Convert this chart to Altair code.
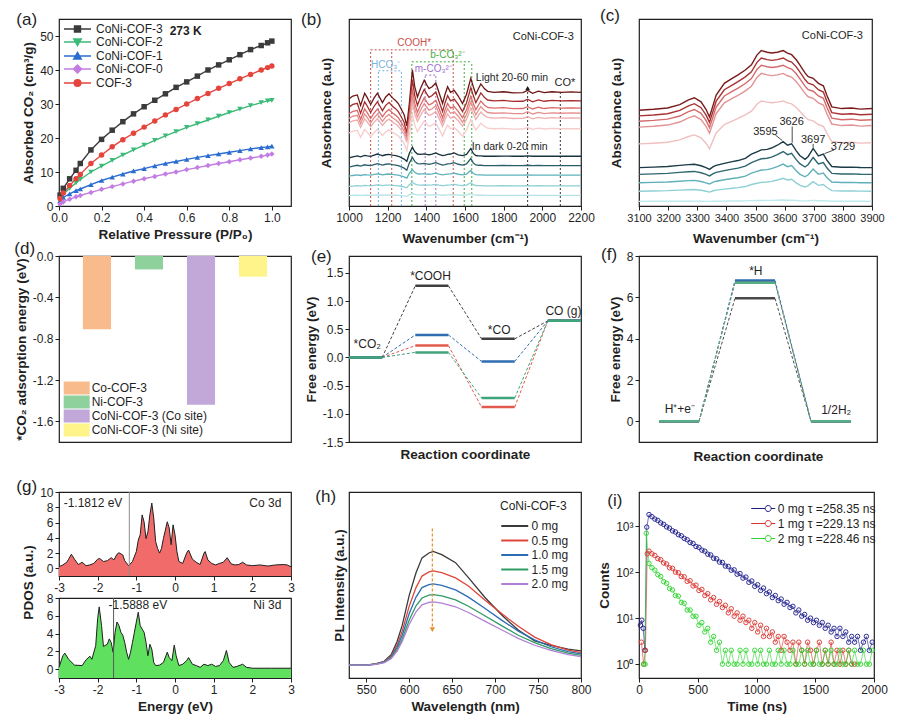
import altair as alt
import pandas as pd

FONT = "Liberation Sans"
INK = "#1f1f1f"
MINUS_FIX = "replace(datum.label, '\u2212', '-')"

# ============================ data ============================
# (a) CO2 adsorption isotherms, 273 K
a_series = ["CoNi-COF-3", "CoNi-COF-2", "CoNi-COF-1", "CoNi-COF-0", "COF-3"]
a_pressure = [0.005, 0.02, 0.05, 0.08, 0.1, 0.15, 0.2, 0.25, 0.3, 0.35, 0.4, 0.45,
              0.5, 0.55, 0.6, 0.65, 0.7, 0.75, 0.8, 0.85, 0.9, 0.95, 0.98, 1.0]
a_coni3 = [3.2, 5.2, 8.0, 10.5, 12.5, 16.5, 19.6, 22.3, 24.8, 27.1, 29.2, 31.1,
           33.0, 34.9, 36.5, 38.2, 40.0, 41.5, 43.0, 44.5, 46.0, 47.2, 48.0, 48.5]
a_coni2 = [2.0, 3.4, 5.2, 6.8, 7.8, 10.0, 11.7, 13.4, 15.0, 16.5, 17.9, 19.3,
           20.6, 21.9, 23.1, 24.2, 25.3, 26.4, 27.5, 28.5, 29.5, 30.4, 30.9, 31.1]
a_coni1 = [1.5, 2.5, 3.6, 4.5, 5.0, 6.3, 7.5, 8.5, 9.4, 10.3, 11.0, 11.8,
           12.5, 13.1, 13.7, 14.3, 14.8, 15.3, 15.8, 16.3, 16.8, 17.2, 17.4, 17.6]
a_coni0 = [0.6, 1.2, 2.0, 2.7, 3.1, 4.0, 4.9, 5.7, 6.5, 7.3, 8.0, 8.7,
           9.4, 10.0, 10.7, 11.3, 11.9, 12.5, 13.0, 13.6, 14.1, 14.6, 15.0, 15.3]
a_cof3 = [2.2, 3.8, 6.0, 8.0, 9.3, 12.5, 15.0, 17.4, 19.5, 21.4, 23.2, 25.0,
          26.8, 28.4, 30.0, 31.6, 33.1, 34.6, 36.0, 37.4, 38.7, 40.0, 40.7, 41.2]

# (b) in-situ DRIFTS, 1000-2200 cm-1
b_wn = [1000, 1020, 1043, 1060, 1081, 1095, 1112, 1130, 1147, 1160, 1173, 1190, 1207, 1225,
        1242, 1255, 1268, 1285, 1299, 1312, 1328, 1340, 1354, 1370, 1389, 1402, 1414, 1430,
        1449, 1465, 1484, 1497, 1510, 1525, 1544, 1565, 1587, 1608, 1630, 1643, 1656, 1670,
        1682, 1700, 1717, 1750, 1800, 1850, 1900, 1924, 1950, 1980, 2010, 2050, 2100, 2150, 2200]
b_light_shape = [-3.5, -2.0, -1.4, -7.0, -0.5, -3.0, -6.5, -3.0, -0.5, -3.0, -5.5, -2.5, -0.8, -3.0,
                 -4.5, -6.0, -8.5, -12.0, -18.0, -6.0, 12.0, 3.0, -2.5, 2.0, 6.5, 4.0, 2.0, 3.0,
                 5.0, 0.0, -6.0, -1.0, 3.0, 0.0, 1.0, -2.0, -6.0, -1.0, 7.5, 3.0, -1.0, 2.0,
                 4.5, 2.0, 0.5, 0.0, 0.3, -0.3, -0.2, 1.0, -0.5, 0.6, -0.2, 0.3, 0.0, 0.2, 0.0]
b_dark_shape = [-0.9, -0.3, 0.2, -0.3, 0.5, 0.2, 0.0, 0.6, 1.2, 0.8, 0.3, 0.8, 1.0, 0.6,
                0.3, 0.0, -0.6, -1.5, -2.7, 1.5, 4.8, 2.5, 1.2, 1.0, 1.3, 1.0, 0.8, 1.2,
                1.8, 1.0, 0.3, 0.6, 1.0, 1.2, 1.8, 0.8, 0.3, 1.0, 4.2, 1.5, 0.4, 0.2,
                0.2, 0.0, 0.0, 0.0, 0.1, 0.0, 0.0, 0.2, 0.0, 0.1, 0.0, 0.0, 0.0, 0.0, 0.0]
b_light_level = [60.8, 56.2, 52.3, 49.6, 47.0, 41.3]
b_light_gain = [1.0, 0.95, 0.85, 0.8, 0.72, 0.65]
b_dark_level = [26.6, 21.6, 16.5, 10.8, 5.7]
b_dark_gain = [1.0, 0.9, 0.6, 0.4, 0.2]
b_band_names = ["COOH*", "HCO3", "b-CO3", "m-CO3", "CO"]
b_band_lines = [[1112, 1221, 1539], [1152, 1271], [1325, 1596, 1635], [1394, 1449], [1924, 2093]]
b_band_top = [83.5, 72.3, 77.1, 70.0, 62.0]

# (c) in-situ DRIFTS, 3100-3900 cm-1
c_wn = [3100, 3150, 3198, 3240, 3270, 3290, 3313, 3330, 3342, 3355, 3365, 3393, 3420, 3440,
        3465, 3486, 3505, 3520, 3540, 3555, 3575, 3595, 3610, 3624, 3640, 3652, 3670, 3681,
        3698, 3716, 3733, 3745, 3762, 3796, 3830, 3860, 3900]
c_light_shape = [0, 0.5, 1.2, 3.0, 5.5, 6.7, 4.5, 0.5, -3.6, 3.0, 8.1, 14.4, 17.0, 18.9,
                 21.5, 24.3, 29.5, 31.9, 31.0, 30.6, 31.0, 31.9, 30.5, 29.7, 27.0, 24.3, 20.0, 18.0,
                 17.1, 14.4, 13.1, 8.0, 1.8, 0.9, 1.2, 0.6, 0.9]
c_dark_shape = [0, 0.3, 0.6, 1.2, 1.6, 1.8, 1.0, 0.0, -0.9, 0.5, 1.2, 2.3, 3.2, 3.8,
                5.0, 7.2, 8.5, 9.5, 9.8, 10.5, 12.0, 13.9, 12.0, 12.8, 9.0, 6.5, 4.5, 6.0,
                10.3, 6.3, 7.2, 4.0, 0.6, 0.2, 0.3, 0.1, 0.0]
c_light_level = [51.2, 48.2, 45.3, 42.2, 33.2]
c_light_gain = [1.0, 0.97, 0.94, 0.9, 0.72]
c_dark_level = [20.5, 16.9, 12.4, 7.9, 2.5]
c_dark_gain = [1.0, 0.88, 0.72, 0.5, 0.05]
c_peaks = ["3595", "3626", "3697", "3729"]

# (d) *CO2 adsorption energy
d_cats = ["Co-COF-3", "Ni-COF-3", "CoNi-COF-3 (Co site)", "CoNi-COF-3 (Ni site)"]
d_energy = [-0.71, -0.13, -1.44, -0.20]

# (e) CO2RR free energy diagram
e_series = ["Co-COF-3", "Ni-COF-3", "CoNi-COF-3 (Co site)", "CoNi-COF-3 (Ni site)"]
e_levels = [[0.0, 1.27, 0.33, 0.65],
            [0.0, 0.21, -0.88, 0.65],
            [0.0, 0.40, -0.07, 0.65],
            [0.0, 0.09, -0.72, 0.65]]
e_steps = ["*CO₂", "*COOH", "*CO", "CO (g)"]

# (f) HER free energy diagram
f_series = ["Co-COF-3", "Ni-COF-3", "CoNi-COF-3 (Co Site)", "CoNi-COF-3 (Ni Site)"]
f_levels = [[0.0, 5.95, 0.0],
            [0.0, 6.74, 0.0],
            [0.0, 6.82, 0.0],
            [0.0, 6.70, 0.0]]
f_steps = ["H⁺+e⁻", "*H", "1/2H₂"]

# (g) projected DOS
g_e_co = [-3.0, -2.9, -2.8, -2.75, -2.68, -2.6, -2.5, -2.4, -2.3, -2.2, -2.1, -2.0, -1.95, -1.85,
          -1.75, -1.65, -1.58, -1.5, -1.45, -1.35, -1.3, -1.2, -1.1, -1.0, -0.95, -0.9, -0.85,
          -0.8, -0.75, -0.7, -0.65, -0.6, -0.55, -0.5, -0.45, -0.4, -0.35, -0.3, -0.2, -0.15,
          -0.1, -0.05, 0.0, 0.05, 0.1, 0.2, 0.3, 0.35, 0.45, 0.55, 0.65, 0.75, 0.78, 0.85, 0.95,
          1.05, 1.15, 1.25, 1.35, 1.45, 1.55, 1.65, 1.75, 1.85, 2.0, 2.2, 2.4, 2.6, 2.8, 2.9, 3.0]
g_pdos_co = [0.2, 0.45, 0.8, 1.2, 1.85, 1.2, 0.5, 0.8, 0.35, 0.45, 0.65, 1.2, 1.3, 0.9,
             1.0, 1.4, 1.1, 1.85, 2.05, 1.75, 1.0, 0.35, 0.9, 2.2, 3.7, 4.4, 7.0,
             6.1, 3.9, 4.8, 7.0, 8.55, 6.6, 3.5, 2.6, 2.0, 2.6, 3.9, 6.1, 5.3,
             3.1, 5.7, 4.4, 2.2, 0.9, 0.65, 2.0, 2.4, 1.2, 0.8, 0.5, 2.0, 2.2, 1.1, 0.65,
             0.45, 0.65, 0.8, 1.4, 0.6, 0.45, 0.5, 0.8, 0.45, 0.35, 0.45, 0.3, 0.45, 0.5, 0.45, 0.2]
g_e_ni = [-3.0, -2.9, -2.85, -2.75, -2.6, -2.4, -2.3, -2.2, -2.15, -2.05, -2.0, -1.96, -1.9,
          -1.85, -1.75, -1.7, -1.65, -1.6, -1.55, -1.5, -1.45, -1.4, -1.35, -1.3, -1.25, -1.2,
          -1.15, -1.1, -1.05, -1.0, -0.95, -0.9, -0.85, -0.8, -0.75, -0.7, -0.65, -0.6, -0.55,
          -0.5, -0.4, -0.3, -0.2, -0.15, -0.08, -0.02, 0.03, 0.1, 0.2, 0.3, 0.35, 0.45, 0.55,
          0.65, 0.75, 0.85, 0.95, 1.05, 1.15, 1.25, 1.33, 1.4, 1.5, 1.6, 1.75, 1.85, 2.0, 2.5, 3.0]
g_pdos_ni = [0.2, 1.5, 1.8, 1.1, 0.45, 0.4, 1.05, 1.45, 1.1, 2.65, 5.7, 7.0, 4.9,
             2.55, 2.8, 3.4, 3.0, 1.9, 4.15, 5.3, 4.9, 4.15, 3.8, 3.0, 1.9, 1.1,
             1.9, 3.0, 4.15, 5.3, 6.4, 4.9, 4.5, 4.15, 3.0, 1.5, 2.8, 2.25, 0.75,
             0.4, 0.45, 0.75, 1.9, 1.3, 0.95, 2.7, 1.5, 0.4, 0.55, 0.95, 1.3, 0.55, 0.4,
             0.2, 0.55, 0.4, 0.55, 0.3, 0.4, 0.95, 2.1, 0.75, 0.2, 0.3, 0.55, 0.2, 0.1, 0.1, 0.1]
g_dband = [-1.1812, -1.5888]

# (h) steady-state PL
h_series = ["0 mg", "0.5 mg", "1.0 mg", "1.5 mg", "2.0 mg"]
h_wl = [530, 550, 561, 571, 579, 586, 592, 600, 608, 615, 623, 628, 638, 654, 669, 688, 708,
        727, 746, 765, 785, 800]
h_0 = [6.9, 6.9, 7.6, 9.0, 12.5, 19.6, 28.4, 44.3, 56.6, 64.6, 67.2, 68.1, 66.3, 62.0, 54.0,
       43.4, 33.7, 25.8, 20.0, 17.5, 15.5, 14.6]
h_05 = [6.9, 6.9, 7.6, 8.8, 11.8, 17.8, 25.2, 38.5, 48.6, 54.8, 57.0, 57.6, 56.6, 53.8, 49.5,
        42.0, 34.5, 27.8, 22.0, 18.0, 15.0, 13.6]
h_10 = [6.9, 6.9, 7.5, 8.6, 11.3, 16.5, 23.0, 34.5, 43.5, 48.6, 50.2, 50.6, 49.8, 47.4, 43.5,
        37.5, 31.0, 25.2, 20.5, 16.8, 14.2, 13.0]
h_15 = [6.9, 6.9, 7.4, 8.4, 10.8, 15.3, 21.0, 31.0, 38.8, 43.0, 44.5, 44.8, 44.1, 42.0, 38.6,
        33.5, 28.0, 23.0, 19.0, 15.8, 13.4, 12.2]
h_20 = [6.9, 6.9, 7.3, 8.2, 10.4, 14.5, 19.8, 28.8, 35.6, 39.3, 40.6, 40.9, 40.2, 38.3, 35.2,
        30.6, 25.8, 21.3, 17.6, 14.8, 12.6, 11.5]

# (i) time-resolved PL decay
i_series = ["0 mg τ =258.35 ns", "1 mg τ =229.13 ns", "2 mg τ =228.46 ns"]
i_rise_t = [[12, 24, 36, 50, 66], [20, 40, 55, 70], [40, 52, 62]]
i_rise_n = [[7, 9, 6, 2, 950], [3, 1, 2, 250], [1, 1, 700]]
i_t = list(range(85, 2000, 25))
i_blue = [1780, 1600, 1420, 1330, 1170, 1090, 960, 900, 790, 745, 650, 615, 540, 505, 440, 420,
          360, 345, 300, 285, 245, 236, 200, 195, 165, 162, 135, 133, 110, 112, 90, 93, 74, 78,
          60, 64, 49, 53, 40, 45, 34, 37, 28, 31, 24, 26, 20, 22, 17, 18, 13, 15, 11, 12, 9, 10,
          8, 9, 7, 8, 6, 7, 5, 6, 4, 6, 4, 5, 3, 4, 3, 4, 2, 3, 4, 2, 3]
i_red = [285, 250, 230, 196, 186, 158, 150, 124, 121, 100, 97, 80, 79, 63, 65, 50, 52, 40, 42,
         31, 34, 25, 28, 20, 23, 17, 19, 13, 16, 11, 13, 9, 11, 8, 9, 6, 8, 5, 7, 4, 6, 4, 5, 3,
         4, 2, 4, 3, 2, 3, 1, 3, 2, 1, 3, 2, 1, 2, 3, 1, 2, 1, 3, 1, 2, 1, 2, 1, 2, 1, 1]
i_green = [155, 125, 110, 88, 80, 62, 57, 44, 41, 31, 30, 22, 21, 15, 15, 11, 11, 7, 8, 5, 6, 3,
           4, 2, 3, 1, 2, 1, 2, 1, 1, 2, 1, 2, 1, 1, 2, 1, 2, 1, 1, 2, 1, 1, 2, 1, 2, 1, 1, 2, 1,
           1, 2, 1, 2, 1, 1, 2, 1, 1, 2, 1, 2, 1, 1, 2, 1, 1, 2, 1, 2, 1, 1, 2, 1, 1, 2]

# ============================ styling ============================
a_colors = ["#3b3b3b", "#3cba78", "#2a6cd0", "#c27de2", "#e5443c"]
a_markers = ["square", "triangle-down", "triangle-up", "diamond", "circle"]
# legend glyphs: a short line with the series marker on it
a_keys = [
    "M-1,0H3.5M0.75,-0.5H1.75V0.5H0.75Z",
    "M-1,0H3.5M0.62,-0.5H1.88L1.25,0.6Z",
    "M-1,0H3.5M0.62,0.5H1.88L1.25,-0.6Z",
    "M-1,0H3.5M1.25,-0.68L1.93,0L1.25,0.68L0.57,0Z",
    "M-1,0H3.5M0.7,0A0.55,0.55,0,1,1,1.8,0A0.55,0.55,0,1,1,0.7,0Z",
]
b_light_colors = ["#6e1616", "#a52c2c", "#dc6a6a", "#e68f8f", "#efadad", "#f6cccc"]
b_dark_colors = ["#18333f", "#2b5d6a", "#5fb2bc", "#8dcfd4", "#b6e3e6"]
b_band_colors = ["#c8504c", "#7ab3de", "#3fae3f", "#a070d0", "#333333"]
c_light_colors = ["#7a1c1c", "#a83232", "#d46a6a", "#e39393", "#f0c0c0"]
c_dark_colors = ["#1b3b46", "#2e6670", "#5fb0b8", "#8fd0d5", "#bfe9ec"]
d_colors = ["#f8bc8c", "#8fd19c", "#c1a8d9", "#fff48a"]
e_colors = ["#404040", "#e25a4e", "#2f6db1", "#3fa57b"]
f_colors = ["#4a4a4a", "#e25a4e", "#2f6db1", "#55ae85"]
h_colors = ["#3a3a3a", "#e0453a", "#2a6db5", "#2f9a62", "#b27fd6"]
i_colors = ["#1b1b8a", "#d8322d", "#2bd42b"]
i_keys = ["M-1,0H1.33M2.33,0H3M1.33,0A0.5,0.5,0,1,1,2.33,0A0.5,0.5,0,1,1,1.33,0Z"] * 3
LINE_KEY = "M-1,0H3"

# panel sizes (plot areas)
COL_W = 232
ROW_H = [187, 186, 186]


def tag(letter, dx, dy):
    return alt.Chart(pd.DataFrame({"t": [letter]})).mark_text(
        align="left", baseline="middle", font=FONT, fontSize=17, color=INK
    ).encode(x=alt.value(dx), y=alt.value(dy), text="t:N")


def long_frame(keys, xs, table, xname, yname):
    rows = []
    for k, ys in zip(keys, table):
        for x, y in zip(xs, ys):
            rows.append({"s": k, xname: x, yname: y})
    return pd.DataFrame(rows)


def notes(rows, X, Y, align="center", size=12, color=INK, weight="normal"):
    df = pd.DataFrame(rows)
    return alt.Chart(df).mark_text(align=align, baseline="middle", font=FONT,
                                   fontSize=size, color=color, fontWeight=weight).encode(X, Y, text="t:N")


# ============================ (a) ============================
df_a = long_frame(a_series, a_pressure, [a_coni3, a_coni2, a_coni1, a_coni0, a_cof3], "p", "v")
AX = alt.X("p:Q", scale=alt.Scale(domain=[0, 1.09], nice=False),
           axis=alt.Axis(values=[0, 0.2, 0.4, 0.6, 0.8, 1.0], format=".1f", title="Relative Pressure (P/P₀)"))
AY = alt.Y("v:Q", scale=alt.Scale(domain=[0, 55], nice=False),
           axis=alt.Axis(values=[0, 10, 20, 30, 40, 50], title="Absorbed CO₂ (cm³/g)"))
a_col = alt.Color("s:N", scale=alt.Scale(domain=a_series, range=a_colors), legend=None)
a_line = alt.Chart(df_a).mark_line(strokeWidth=1.4).encode(AX, AY, a_col)
a_dots = alt.Chart(df_a).mark_point(filled=True, opacity=1, size=30).encode(
    AX, AY, a_col, alt.Shape("s:N", scale=alt.Scale(domain=a_series, range=a_markers), legend=None))
a_leg = alt.Legend(orient="none", legendX=4, legendY=3, title=None, symbolSize=144, labelOffset=19,
                   rowPadding=0, padding=0, symbolStrokeWidth=1.4)
a_key = alt.Chart(df_a).transform_filter("false").mark_point(filled=True, opacity=1, strokeWidth=1.4).encode(
    fill=alt.Fill("s:N", scale=alt.Scale(domain=a_series, range=a_colors), legend=a_leg),
    stroke=alt.Stroke("s:N", scale=alt.Scale(domain=a_series, range=a_colors), legend=a_leg),
    shape=alt.Shape("s:N", scale=alt.Scale(domain=a_series, range=a_keys), legend=a_leg),
)
a_temp = notes([{"p": 0.52, "v": 51.6, "t": "273 K"}], AX, AY, align="left", weight="bold")
anchor = alt.Chart(pd.DataFrame({"t": ["."]})).mark_text(
    align="left", baseline="top", fontSize=1, opacity=0
).encode(x=alt.value(-57.7), y=alt.value(-18), text="t:N")
panel_a = alt.layer(a_line, a_dots, a_key, a_temp, tag("(a)", -42.7, 0.5), anchor).resolve_scale(
    shape="independent", fill="independent", stroke="independent").properties(width=COL_W, height=ROW_H[0])

# ============================ (b) ============================
b_rows, b_names = [], []
for i, (lv, gn) in enumerate(zip(b_light_level, b_light_gain)):
    b_names.append(f"L{i}")
    b_rows += [{"s": f"L{i}", "w": w, "v": lv + gn * d} for w, d in zip(b_wn, b_light_shape)]
for i, (lv, gn) in enumerate(zip(b_dark_level, b_dark_gain)):
    b_names.append(f"D{i}")
    b_rows += [{"s": f"D{i}", "w": w, "v": lv + gn * d} for w, d in zip(b_wn, b_dark_shape)]
df_b = pd.DataFrame(b_rows)
BX = alt.X("w:Q", scale=alt.Scale(domain=[1000, 2200], nice=False),
           axis=alt.Axis(values=list(range(1000, 2201, 200)), format="d", title="Wavenumber (cm⁻¹)", titlePadding=8))
BY = alt.Y("v:Q", scale=alt.Scale(domain=[0, 100], nice=False),
           axis=alt.Axis(labels=False, ticks=False, title="Absorbance (a.u)", titlePadding=16))
b_curves = alt.Chart(df_b).mark_line(strokeWidth=1.3).encode(
    BX, BY, alt.Color("s:N", scale=alt.Scale(domain=b_names, range=b_light_colors + b_dark_colors), legend=None))
vrows, hrows = [], []
for name, ws, top in zip(b_band_names, b_band_lines, b_band_top):
    vrows += [{"g": name, "w": w, "v": 0, "v2": top} for w in ws]
    if name != "CO":
        hrows.append({"g": name, "w": min(ws), "w2": max(ws), "v": top})
b_band_text_rows = [
    {"g": "COOH*", "w": 1337, "v": 87.0, "t": "COOH*"},
    {"g": "HCO3", "w": 1190, "v": 75.5, "t": "HCO₃⁻"},
    {"g": "m-CO3", "w": 1436, "v": 73.4, "t": "m-CO₃²⁻"},
    {"g": "b-CO3", "w": 1509, "v": 81.0, "t": "b-CO₃²⁻"},
]
band_layers = []
for name, colr in zip(b_band_names, b_band_colors):
    band_layers.append(alt.Chart(pd.DataFrame([r for r in vrows if r["g"] == name])).mark_rule(
        strokeDash=[2, 2], strokeWidth=1, color=colr).encode(BX, BY, alt.Y2("v2")))
    hr = [r for r in hrows if r["g"] == name]
    if hr:
        band_layers.append(alt.Chart(pd.DataFrame(hr)).mark_rule(
            strokeDash=[2, 2], strokeWidth=1, color=colr).encode(BX, alt.X2("w2"), BY))
    tr = [r for r in b_band_text_rows if r["g"] == name]
    if tr:
        band_layers.append(notes(tr, BX, BY, size=10, color=colr))
b_text_l = notes([{"w": 1656, "v": 68.2, "t": "Light 20-60 min"},
                  {"w": 1635, "v": 31.4, "t": "In dark 0-20 min"}], BX, BY, align="left", size=10.5)
b_text_c = notes([{"w": 2117, "v": 65.6, "t": "CO*"},
                  {"w": 2005, "v": 90.4, "t": "CoNi-COF-3"}], BX, BY, size=11)
b_tri = alt.Chart(pd.DataFrame({"w": [1924], "v": [63.0]})).mark_point(
    shape="triangle-up", filled=True, size=25, color=INK, opacity=1).encode(BX, BY)
panel_b = alt.layer(*band_layers, b_curves, b_text_l, b_text_c, b_tri,
                    tag("(b)", -48, 0.5)).properties(width=COL_W, height=ROW_H[0])

# ============================ (c) ============================
c_rows, c_names = [], []
for i, (lv, gn) in enumerate(zip(c_light_level, c_light_gain)):
    c_names.append(f"L{i}")
    c_rows += [{"s": f"L{i}", "w": w, "v": lv + gn * d} for w, d in zip(c_wn, c_light_shape)]
for i, (lv, gn) in enumerate(zip(c_dark_level, c_dark_gain)):
    c_names.append(f"D{i}")
    c_rows += [{"s": f"D{i}", "w": w, "v": lv + gn * d} for w, d in zip(c_wn, c_dark_shape)]
df_c = pd.DataFrame(c_rows)
CX = alt.X("w:Q", scale=alt.Scale(domain=[3100, 3900], nice=False),
           axis=alt.Axis(values=list(range(3100, 3901, 100)), format="d", labelFontSize=11,
                         title="Wavenumber (cm⁻¹)", titlePadding=8))
CY = alt.Y("v:Q", scale=alt.Scale(domain=[0, 100], nice=False),
           axis=alt.Axis(labels=False, ticks=False, title="Absorbance (a.u)", titlePadding=16))
c_curves = alt.Chart(df_c).mark_line(strokeWidth=1.4).encode(
    CX, CY, alt.Color("s:N", scale=alt.Scale(domain=c_names, range=c_light_colors + c_dark_colors), legend=None))
c_leaders = alt.Chart(pd.DataFrame([
    {"w": 3568, "w2": 3592, "v": 38.0, "v2": 35.0},
    {"w": 3626, "w2": 3626, "v": 42.5, "v2": 33.8},
    {"w": 3698, "w2": 3698, "v": 33.2, "v2": 31.2},
    {"w": 3770, "w2": 3737, "v": 30.0, "v2": 28.0},
])).mark_rule(color=INK, strokeWidth=0.8).encode(CX, alt.X2("w2"), CY, alt.Y2("v2"))
c_text = notes([{"w": 3534, "v": 39.5, "t": c_peaks[0]}, {"w": 3624, "v": 44.9, "t": c_peaks[1]},
                {"w": 3698, "v": 35.5, "t": c_peaks[2]}, {"w": 3800, "v": 31.4, "t": c_peaks[3]}],
               CX, CY, size=11)
c_title = notes([{"w": 3764, "v": 90.8, "t": "CoNi-COF-3"}], CX, CY, size=11)
panel_c = alt.layer(c_curves, c_leaders, c_text, c_title, tag("(c)", -39, -3.5)).properties(width=233, height=ROW_H[0])

# ============================ (d) ============================
df_d = pd.DataFrame({"c": d_cats, "e": d_energy})
DX = alt.X("c:N", sort=d_cats, scale=alt.Scale(paddingInner=0.46, paddingOuter=0.46), axis=None)
DY = alt.Y("e:Q", scale=alt.Scale(domain=[-1.8, 0], nice=False),
           axis=alt.Axis(values=[0, -0.4, -0.8, -1.2, -1.6], format=".1f", labelExpr=MINUS_FIX,
                         title="*CO₂ adsorption energy (eV)"))
d_leg = alt.Legend(orient="none", legendX=4.7, legendY=125.5, title=None, symbolType="M-1,-1H3V1H-1Z",
                   symbolSize=169, labelOffset=15, rowPadding=1, padding=0, symbolStrokeWidth=0)
d_bars = alt.Chart(df_d).mark_bar().encode(
    DX, DY, alt.Color("c:N", scale=alt.Scale(domain=d_cats, range=d_colors), legend=d_leg))
panel_d = alt.layer(d_bars, tag("(d)", -44.7, -7.5)).properties(width=COL_W, height=ROW_H[1])

# ============================ (e) ============================
e_left, e_right = [0, 2, 4, 6], [1, 3, 5, 7]
e_lv, e_ln = [], []
for s, lv in zip(e_series, e_levels):
    e_lv += [{"s": s, "x0": a, "x1": b, "g": g} for a, b, g in zip(e_left, e_right, lv)]
    e_ln += [{"s": s, "x0": e_right[k], "x1": e_left[k + 1], "g": lv[k], "g1": lv[k + 1]} for k in range(3)]
EX = alt.X("x0:Q", scale=alt.Scale(domain=[0, 7], nice=False),
           axis=alt.Axis(labels=False, ticks=False, title="Reaction coordinate", titlePadding=5))
EY = alt.Y("g:Q", scale=alt.Scale(domain=[-1.5, 1.8], nice=False),
           axis=alt.Axis(values=[-1.5, -1.0, -0.5, 0.0, 0.5, 1.0, 1.5], format=".1f", labelExpr=MINUS_FIX,
                         title="Free energy (eV)"))
e_leg = alt.Legend(orient="none", legendX=3, legendY=127, title=None, symbolType=LINE_KEY, symbolSize=182,
                   labelOffset=15.5, rowPadding=0.5, padding=0, symbolStrokeWidth=2.2)
e_links = alt.Chart(pd.DataFrame(e_ln)).mark_rule(strokeDash=[3, 2], strokeWidth=1).encode(
    EX, alt.X2("x1"), EY, alt.Y2("g1"),
    alt.Color("s:N", scale=alt.Scale(domain=e_series, range=e_colors), legend=None))
e_bars = alt.Chart(pd.DataFrame(e_lv)).mark_rule(strokeWidth=2.5).encode(
    EX, alt.X2("x1"), EY, alt.Color("s:N", scale=alt.Scale(domain=e_series, range=e_colors), legend=e_leg))
e_text = notes([{"x0": 0.55, "g": 0.24, "t": e_steps[0]}, {"x0": 2.46, "g": 1.44, "t": e_steps[1]},
                {"x0": 4.53, "g": 0.49, "t": e_steps[2]}, {"x0": 6.47, "g": 0.82, "t": e_steps[3]}], EX, EY)
panel_e = alt.layer(e_links, e_bars, e_text, tag("(e)", -38, 0.5)).properties(width=COL_W, height=ROW_H[1])

# ============================ (f) ============================
f_left, f_right = [0.5, 2.4, 4.3], [1.5, 3.4, 5.3]
f_lv, f_ln = [], []
for s, lv in zip(f_series, f_levels):
    f_lv += [{"s": s, "x0": a, "x1": b, "g": g} for a, b, g in zip(f_left, f_right, lv)]
    f_ln += [{"s": s, "x0": f_right[k], "x1": f_left[k + 1], "g": lv[k], "g1": lv[k + 1]} for k in range(2)]
f_key_domain = [f_series[0], f_series[1], f_series[2], "(Co Site)", f_series[3], "(Ni Site)"]
f_key_range = [f_colors[0], f_colors[1], f_colors[2], "rgba(0,0,0,0)", f_colors[3], "rgba(0,0,0,0)"]
FX = alt.X("x0:Q", scale=alt.Scale(domain=[0, 5.95], nice=False),
           axis=alt.Axis(labels=False, ticks=False, title="Reaction coordinate", titlePadding=7))
FY = alt.Y("g:Q", scale=alt.Scale(domain=[-1, 8], nice=False),
           axis=alt.Axis(values=[0, 2, 4, 6, 8], title="Free energy (eV)"))
f_leg = alt.Legend(orient="none", legendX=3, legendY=3.5, title=None, symbolType=LINE_KEY, symbolSize=182,
                   labelOffset=15.5, rowPadding=0.5, padding=0, symbolStrokeWidth=2.2,
                   labelExpr="indexof(datum.label, 'CoNi') == 0 ? 'CoNi-COF-3' : datum.label")
f_links = alt.Chart(pd.DataFrame(f_ln)).mark_rule(strokeDash=[3, 2], strokeWidth=1).encode(
    FX, alt.X2("x1"), FY, alt.Y2("g1"),
    alt.Color("s:N", scale=alt.Scale(domain=f_key_domain, range=f_key_range), legend=None))
f_bars = alt.Chart(pd.DataFrame(f_lv)).mark_rule(strokeWidth=2.5).encode(
    FX, alt.X2("x1"), FY, alt.Color("s:N", scale=alt.Scale(domain=f_key_domain, range=f_key_range), legend=f_leg))
f_text = notes([{"x0": 1.02, "g": 0.62, "t": f_steps[0]}, {"x0": 2.92, "g": 7.28, "t": f_steps[1]},
                {"x0": 4.93, "g": 0.54, "t": f_steps[2]}], FX, FY)
panel_f = alt.layer(f_links, f_bars, f_text, tag("(f)", -38, -1.5)).properties(width=238, height=ROW_H[1])

# ============================ (g) ============================
def gx(title):
    return alt.X("e:Q", scale=alt.Scale(domain=[-3, 3], nice=False),
                 axis=alt.Axis(values=[-3, -2, -1, 0, 1, 2, 3], format="d", labelExpr=MINUS_FIX, title=title))


GXT, GXB = gx(None), gx("Energy (eV)")
GYT = alt.Y("d:Q", scale=alt.Scale(domain=[-1, 10], nice=False),
            axis=alt.Axis(values=[0, 2, 4, 6, 8, 10], title="PDOS (a.u.)", titleY=90))
GYB = alt.Y("d:Q", scale=alt.Scale(domain=[-1, 8], nice=False),
            axis=alt.Axis(values=[0, 2, 4, 6, 8], title=None))
df_gco = pd.DataFrame({"e": g_e_co, "d": g_pdos_co})
df_gni = pd.DataFrame({"e": g_e_ni, "d": g_pdos_ni})
g_top = alt.layer(
    alt.Chart(df_gco).mark_area(color="#f26b6b", opacity=1).encode(GXT, GYT, y2=alt.datum(-1)),
    alt.Chart(df_gco).mark_line(color=INK, strokeWidth=1).encode(GXT, GYT),
    alt.Chart(pd.DataFrame({"e": [g_dband[0]]})).mark_rule(color="#8c8c8c", strokeWidth=1).encode(GXT),
    notes([{"e": -2.88, "d": 8.55, "t": "-1.1812 eV"}], GXT, GYT, align="left"),
    notes([{"e": 2.75, "d": 8.55, "t": "Co 3d"}], GXT, GYT, align="right"),
    tag("(g)", -42.7, -5),
).properties(width=COL_W, height=84)
g_bot = alt.layer(
    alt.Chart(df_gni).mark_area(color="#5fe05f", opacity=1).encode(GXB, GYB, y2=alt.datum(-1)),
    alt.Chart(df_gni).mark_line(color=INK, strokeWidth=1).encode(GXB, GYB),
    alt.Chart(pd.DataFrame({"e": [g_dband[1]]})).mark_rule(color="#5a5a5a", strokeWidth=1).encode(GXB),
    notes([{"e": -1.72, "d": 7.2, "t": "-1.5888 eV"}], GXB, GYB, align="left"),
    notes([{"e": 2.75, "d": 7.2, "t": "Ni 3d"}], GXB, GYB, align="right"),
).properties(width=COL_W, height=80)
panel_g = alt.vconcat(g_top, g_bot, spacing=22, bounds="flush")

# ============================ (h) ============================
df_h = long_frame(h_series, h_wl, [h_0, h_05, h_10, h_15, h_20], "w", "i")
HX = alt.X("w:Q", scale=alt.Scale(domain=[530, 800], nice=False),
           axis=alt.Axis(values=[550, 600, 650, 700, 750, 800], format="d", title="Wavelength (nm)"))
HY = alt.Y("i:Q", scale=alt.Scale(domain=[0, 100], nice=False),
           axis=alt.Axis(labels=False, ticks=False, title="PL Intensity (a.u.)", titlePadding=3))
h_leg = alt.Legend(orient="none", legendX=151, legendY=9, title="CoNi-COF-3", titleFontWeight="normal",
                   titleFontSize=12, titlePadding=5, symbolType=LINE_KEY, symbolSize=182, labelOffset=15.5,
                   rowPadding=0.5, padding=0, symbolStrokeWidth=2)
h_lines = alt.Chart(df_h).mark_line(strokeWidth=1.3).encode(
    HX, HY, alt.Color("s:N", scale=alt.Scale(domain=h_series, range=h_colors), legend=h_leg))
h_arrow = alt.Chart(pd.DataFrame({"w": [627], "i": [80.4], "i2": [27.0]})).mark_rule(
    color="#e8902a", strokeDash=[3, 2], strokeWidth=1.2).encode(HX, HY, alt.Y2("i2"))
h_head = alt.Chart(pd.DataFrame({"w": [627], "i": [26.0]})).mark_point(
    shape="triangle-down", filled=True, size=30, color="#e8902a", opacity=1).encode(HX, HY)
panel_h = alt.layer(h_lines, h_arrow, h_head, tag("(h)", -33.7, 5)).properties(width=COL_W, height=ROW_H[2])

# ============================ (i) ============================
i_rows = []
for s, rt, rn, ys in zip(i_series, i_rise_t, i_rise_n, [i_blue, i_red, i_green]):
    i_rows += [{"s": s, "t": t, "n": n} for t, n in zip(rt, rn)]
    i_rows += [{"s": s, "t": t, "n": n} for t, n in zip(i_t, ys)]
df_i = pd.DataFrame(i_rows)
IX = alt.X("t:Q", scale=alt.Scale(domain=[0, 2000], nice=False),
           axis=alt.Axis(values=[0, 500, 1000, 1500, 2000], format="d", title="Time (ns)"))
IY = alt.Y("n:Q", scale=alt.Scale(type="log", domain=[0.5, 5500], nice=False),
           axis=alt.Axis(values=[1, 10, 100, 1000], title="Counts",
                         labelExpr="'10' + (datum.value >= 1000 ? '³' : datum.value >= 100 ? '²' : datum.value >= 10 ? '¹' : '⁰')"))
i_col = alt.Color("s:N", scale=alt.Scale(domain=i_series, range=i_colors), legend=None)
i_lines = alt.Chart(df_i).mark_line(strokeWidth=0.6).encode(IX, IY, i_col)
i_dots = alt.Chart(df_i).mark_point(shape="circle", filled=False, size=20, strokeWidth=0.9, opacity=1).encode(IX, IY, i_col)
i_leg = alt.Legend(orient="none", legendX=111.7, legendY=10, title=None, symbolSize=144, labelOffset=14,
                   rowPadding=2, padding=0, symbolStrokeWidth=1)
i_key = alt.Chart(df_i).transform_filter("false").mark_point(filled=False, opacity=1, strokeWidth=1).encode(
    color=alt.Color("s:N", scale=alt.Scale(domain=i_series, range=i_colors), legend=i_leg),
    shape=alt.Shape("s:N", scale=alt.Scale(domain=i_series, range=i_keys), legend=i_leg),
)
panel_i = alt.layer(i_lines, i_dots, i_key, tag("(i)", -31.7, 8.5)).resolve_scale(
    color="independent", shape="independent").properties(width=235, height=ROW_H[2])

# ============================ layout ============================
chart = alt.concat(
    panel_a, panel_b, panel_c,
    panel_d, panel_e, panel_f,
    panel_g, panel_h, panel_i,
    columns=3, spacing={"row": 50, "column": 58}, bounds="flush",
).resolve_scale(
    color="independent", shape="independent", fill="independent", stroke="independent"
).properties(
    padding={"left": 0, "top": 0, "right": 4, "bottom": 4}
).configure(font=FONT).configure_view(
    stroke=INK, strokeWidth=1.2
).configure_axis(
    labelFont=FONT, labelFontSize=12, labelColor=INK, labelPadding=2, labelOverlap=False, labelFlush=False,
    titleFont=FONT, titleFontSize=13.5, titleFontWeight="bold", titleColor=INK, titlePadding=4,
    tickColor=INK, tickSize=4, tickWidth=1, domain=False, grid=False,
).configure_legend(
    labelFont=FONT, labelFontSize=12, labelColor=INK, titleFont=FONT, titleColor=INK,
)

chart.save("out.html", embed_options={"renderer": "svg", "actions": False})
